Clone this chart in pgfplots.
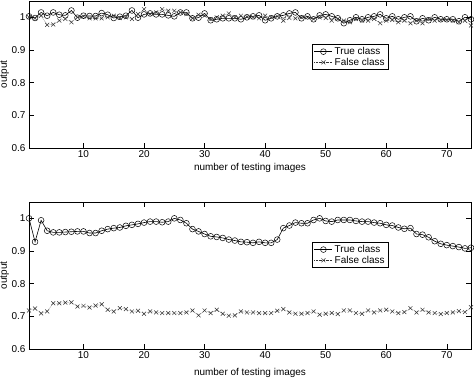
\documentclass[border=0pt]{standalone}
\usepackage{pgfplots}
\pgfplotsset{compat=1.18}
\usepackage{pgfplotstable}
\usepackage{fontspec}
\setmainfont{Liberation Sans}
\pgfplotstableread{
x t f
1 1.003 1.000
2 0.998 0.997
3 1.015 1.005
4 1.005 0.977
5 1.015 0.978
6 1.008 0.990
7 1.006 0.995
8 1.021 0.985
9 0.999 1.000
10 1.005 1.003
11 1.004 0.997
12 1.004 0.997
13 1.013 0.997
14 1.008 1.000
15 0.998 1.005
16 1.002 0.998
17 1.005 1.000
18 1.021 0.995
19 0.999 1.010
20 1.009 1.025
21 1.012 1.010
22 1.009 1.015
23 1.009 1.025
24 1.006 1.020
25 1.003 1.020
26 1.015 1.015
27 1.015 1.010
28 0.997 0.997
29 0.999 1.008
30 1.012 1.005
31 0.991 0.995
32 0.994 1.000
33 0.997 1.005
34 0.997 1.012
35 0.997 1.000
36 0.994 1.005
37 1.000 1.002
38 1.003 1.000
39 1.006 0.997
40 0.991 1.005
41 0.997 1.000
42 1.003 1.003
43 1.006 0.990
44 1.012 0.998
45 1.015 0.997
46 0.997 1.000
47 1.003 1.000
48 0.994 0.995
49 1.006 1.000
50 1.009 0.998
51 1.003 0.990
52 0.997 0.995
53 0.982 0.990
54 0.991 0.985
55 1.000 0.995
56 0.994 0.990
57 1.000 0.990
58 1.003 0.995
59 1.009 0.982
60 0.997 0.990
61 1.003 0.992
62 0.994 0.985
63 1.000 0.990
64 1.003 0.982
65 0.988 0.990
66 0.997 0.982
67 0.991 0.995
68 1.000 0.990
69 0.994 0.992
70 0.994 0.992
71 0.994 0.990
72 0.988 0.985
73 1.000 0.990
74 0.994 0.975
}\toptable
\pgfplotstableread{
x t f
1 1.000 0.718
2 0.928 0.724
3 0.994 0.709
4 0.962 0.715
5 0.957 0.740
6 0.957 0.740
7 0.958 0.742
8 0.959 0.743
9 0.960 0.730
10 0.960 0.732
11 0.955 0.727
12 0.955 0.733
13 0.962 0.737
14 0.967 0.720
15 0.970 0.715
16 0.972 0.725
17 0.977 0.722
18 0.980 0.715
19 0.983 0.717
20 0.987 0.708
21 0.990 0.715
22 0.990 0.712
23 0.988 0.710
24 0.990 0.710
25 1.000 0.710
26 0.995 0.710
27 0.985 0.712
28 0.967 0.718
29 0.960 0.703
30 0.952 0.718
31 0.945 0.710
32 0.943 0.720
33 0.940 0.708
34 0.935 0.702
35 0.932 0.703
36 0.928 0.715
37 0.927 0.712
38 0.925 0.712
39 0.928 0.710
40 0.925 0.710
41 0.925 0.710
42 0.935 0.717
43 0.970 0.722
44 0.978 0.712
45 0.987 0.708
46 0.985 0.708
47 0.985 0.710
48 0.995 0.715
49 1.000 0.705
50 0.992 0.708
51 0.990 0.710
52 0.995 0.707
53 0.995 0.718
54 0.995 0.718
55 0.992 0.710
56 0.990 0.708
57 0.990 0.718
58 0.987 0.712
59 0.985 0.718
60 0.980 0.720
61 0.978 0.715
62 0.972 0.710
63 0.968 0.713
64 0.970 0.725
65 0.952 0.712
66 0.950 0.720
67 0.942 0.712
68 0.930 0.710
69 0.922 0.707
70 0.918 0.710
71 0.915 0.712
72 0.912 0.716
73 0.908 0.713
74 0.910 0.728
}\bottable
\pgfplotsset{
  myaxis/.style={
    scale only axis, width=442bp, height=147bp,
    xmin=1, xmax=74, ymin=0.6, ymax=1.05,
    xtick={10,20,...,70}, xticklabels={10,20,30,40,50,60,70},
    ytick={0.6,0.7,0.8,0.9,1}, yticklabels={0.6,0.7,0.8,0.9,1},
    tick align=inside, major tick length=5bp,
    tick style={black, line width=0.5bp},
    axis line style={line width=0.7bp},
    /pgf/number format/assume math mode=true,
    ticklabel style={font=\fontsize{10}{11}\selectfont},
    xticklabel style={yshift=1bp},
    label style={font=\fontsize{10}{11}\selectfont},
    xlabel={number of testing images},
    ylabel={output},
    ylabel style={at={(axis description cs:-0.0498,0.5)}, anchor=base, rotate=0},
    legend style={font=\fontsize{10}{11}\selectfont, draw=black, line width=0.5bp,
      inner xsep=2bp, inner ysep=1bp, row sep=-2bp, cells={anchor=west}},
    legend cell align=left,
    legend image code/.code={\draw[mark repeat=2,mark phase=2] plot coordinates {(0bp,0bp) (9bp,0bp) (18bp,0bp)};},
  },
  truestyle/.style={black, line width=0.6bp, mark=o, mark size=2.9bp, mark options={solid, line width=0.5bp}},
  falsestyle/.style={black!80, line width=0.4bp, densely dotted, mark=x, mark size=2.8bp, mark options={solid, line width=0.5bp}},
}
\begin{document}
\begin{tikzpicture}
\useasboundingbox (0,0) rectangle (474bp,379bp);
\clip (0,0) rectangle (474bp,379bp);
\begin{axis}[myaxis, at={(29bp,231bp)}, anchor=south west,
  xlabel style={at={(axis description cs:0.5,0)}, anchor=center, yshift=-20bp},
  legend style={at={(0.814,0.707)}, anchor=north east}]
\addplot[truestyle] table[x=x,y=t] {\toptable};
\addlegendentry{True class}
\addplot[falsestyle] table[x=x,y=f] {\toptable};
\addlegendentry{False class}
\end{axis}
\begin{axis}[myaxis, at={(29bp,30bp)}, anchor=south west,
  xlabel style={at={(axis description cs:0.5,0)}, anchor=center, yshift=-24bp},
  legend style={at={(0.814,0.728)}, anchor=north east}]
\addplot[truestyle] table[x=x,y=t] {\bottable};
\addlegendentry{True class}
\addplot[falsestyle] table[x=x,y=f] {\bottable};
\addlegendentry{False class}
\end{axis}
\end{tikzpicture}
\end{document}
